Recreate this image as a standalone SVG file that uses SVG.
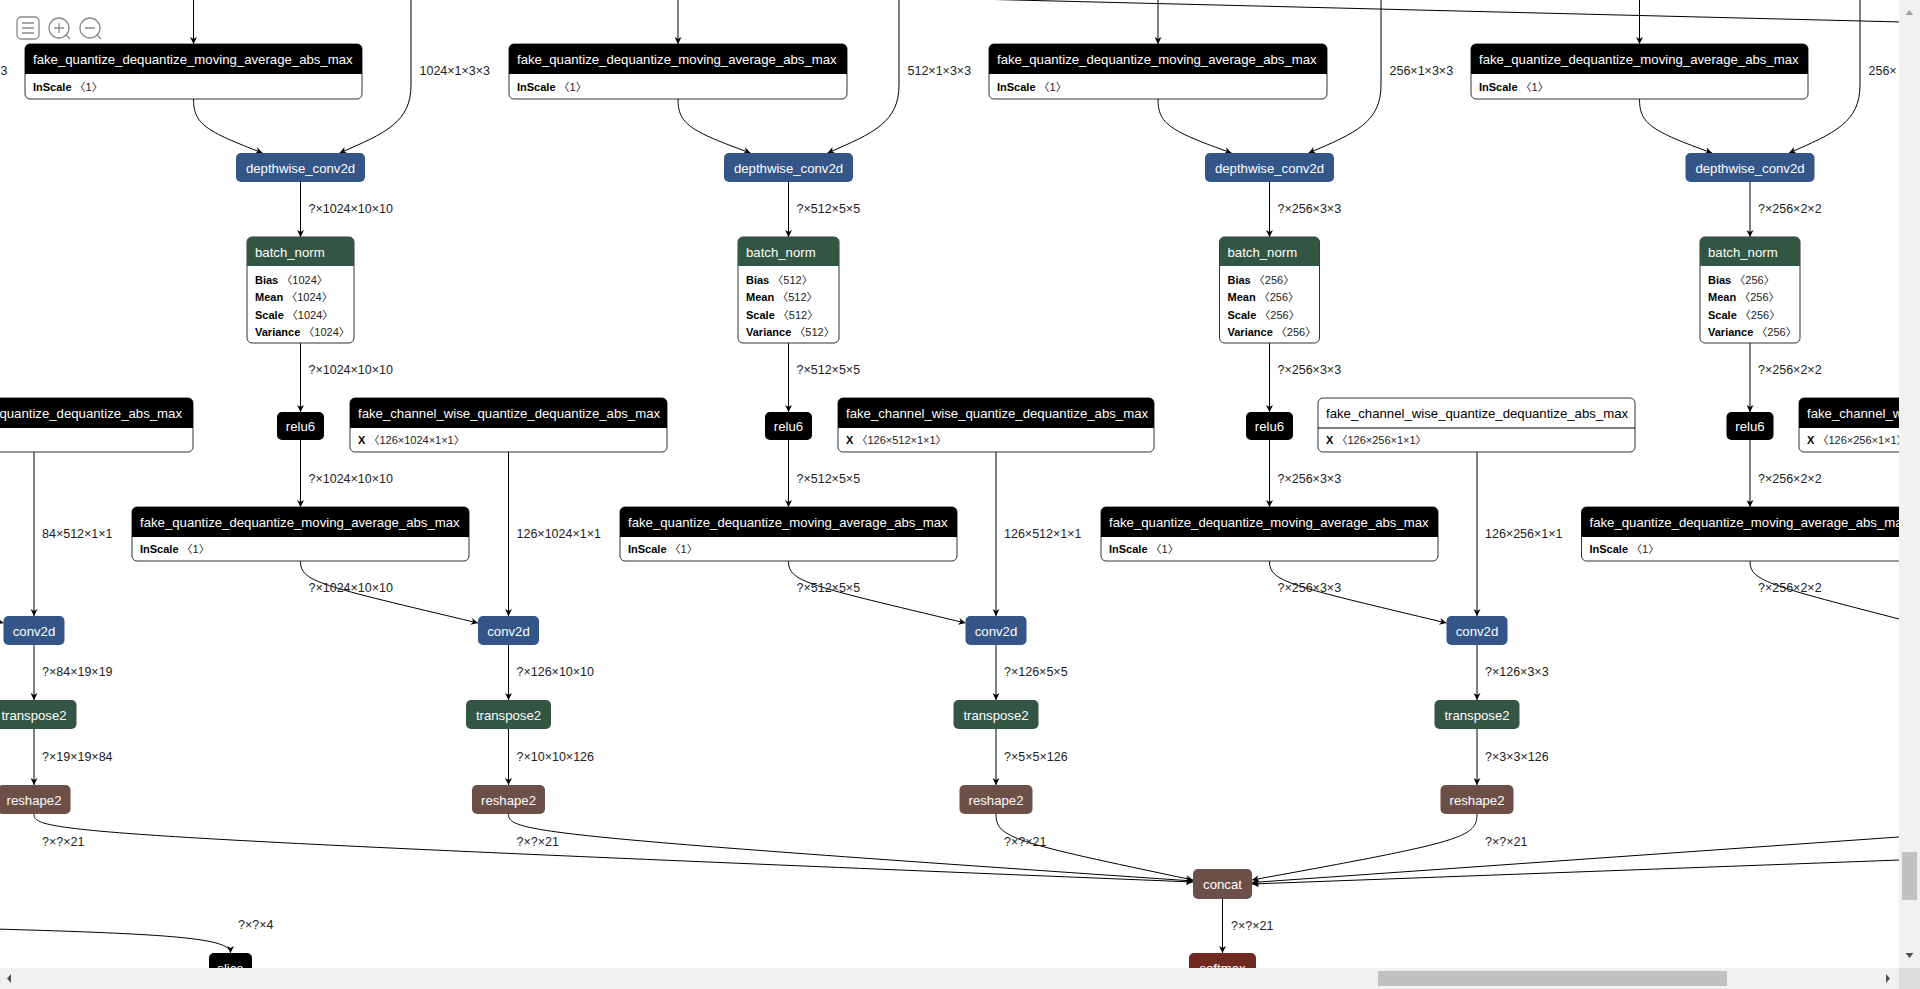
<svg xmlns="http://www.w3.org/2000/svg" width="1920" height="989" viewBox="0 0 1920 989">
<defs>
<marker id="arrow" viewBox="0 0 10 10" refX="10" refY="5" markerWidth="7" markerHeight="7" markerUnits="userSpaceOnUse" orient="auto"><path d="M0,0 L10,5 L0,10 L3,5 z" fill="#000"/></marker>
<style>
text{font-family:"Liberation Sans","Noto Sans CJK SC",sans-serif}
.title{font-size:13.2px;fill:#fff}
.dark{fill:#000}
.mid{text-anchor:middle}
.attr{font-size:11px;fill:#222}
.b{font-weight:bold;fill:#000}
.lbl{font-size:12.5px;fill:#222}
.body{fill:#fff;stroke:#333;stroke-width:1}
.k{fill:#000}
.blue{fill:#335588}
.green{fill:#335544}
.brown{fill:#6c4f47}
.red{fill:#702921}
.e{fill:none;stroke:#000;stroke-width:1;marker-end:url(#arrow)}
.ln{fill:none;stroke:#000;stroke-width:1}
</style>
</defs>
<rect width="1920" height="989" fill="#fff"/>

<g id="connectors">
<!-- column 1 -->
<path class="e" d="M193.5,0 V44"/>
<path class="e" d="M193.5,99 C193.5,124 205.5,131 262.5,153"/>
<path class="e" d="M411,0 V85 C411,122 386,133 339.5,153"/>
<path class="e" d="M300.5,182 V237"/>
<path class="e" d="M300.5,343 V412"/>
<path class="e" d="M300.5,440 V507"/>
<path class="e" d="M300.5,561 C300.5,582 318.5,585 478,623"/>
<path class="e" d="M508.5,452 V616"/>
<path class="e" d="M508.5,645 V700"/>
<path class="e" d="M508.5,729 V785"/>
<path class="e" d="M508.5,814 C508.5,832 535,836 1193,881"/>
<!-- column 2 -->
<path class="e" d="M678,0 V44"/>
<path class="e" d="M678,99 C678,124 690,131 750.5,153"/>
<path class="e" d="M899,0 V85 C899,122 874,133 827.5,153"/>
<path class="e" d="M788.5,182 V237"/>
<path class="e" d="M788.5,343 V412"/>
<path class="e" d="M788.5,440 V507"/>
<path class="e" d="M788.5,561 C788.5,582 806.5,585 965.5,623"/>
<path class="e" d="M996,452 V616"/>
<path class="e" d="M996,645 V700"/>
<path class="e" d="M996,729 V785"/>
<path class="e" d="M996,814 C996,838 1012,842 1193,880"/>
<!-- column 3 -->
<path class="e" d="M1158,0 V44"/>
<path class="e" d="M1158,99 C1158,124 1170,131 1231.5,153"/>
<path class="e" d="M1381,0 V85 C1381,122 1356,133 1308.5,153"/>
<path class="e" d="M1269.5,182 V237"/>
<path class="e" d="M1269.5,343 V412"/>
<path class="e" d="M1269.5,440 V507"/>
<path class="e" d="M1269.5,561 C1269.5,582 1287.5,585 1446.5,623"/>
<path class="e" d="M1477,452 V616"/>
<path class="e" d="M1477,645 V700"/>
<path class="e" d="M1477,729 V785"/>
<path class="e" d="M1477,814 C1477,838 1461,842 1252,880"/>
<!-- column 4 -->
<path class="e" d="M1639.5,0 V44"/>
<path class="e" d="M1639.5,99 C1639.5,124 1651.5,131 1712,153"/>
<path class="e" d="M1860,0 V85 C1860,122 1835,133 1789,153"/>
<path class="e" d="M1750,182 V237"/>
<path class="e" d="M1750,343 V412"/>
<path class="e" d="M1750,440 V507"/>
<path class="ln" d="M1750,561 C1750,582 1768,585 1930,627"/>
<!-- column 0 -->
<path class="e" d="M-30,614 L3.5,623"/>
<path class="e" d="M34,452 V616"/>
<path class="e" d="M34,645 V700"/>
<path class="e" d="M34,729 V785"/>
<path class="e" d="M34,814 C34,832 60,836 1193,882"/>
<!-- long lines -->
<path class="ln" d="M990,-0.6 L1930,22.7"/>
<path class="e" d="M1930,834.8 L1252,882.5"/>
<path class="e" d="M1930,858.9 L1252,884"/>
<path class="e" d="M1222.5,899 V953"/>
<path class="e" d="M-5,929 C170,934 230.5,938 230.5,953"/>
</g>

<g id="edge-labels" class="lbl">
<text class="lbl" x="0.5" y="75">3</text>
<text class="lbl" x="419.5" y="75">1024×1×3×3</text>
<text class="lbl" x="907.5" y="75">512×1×3×3</text>
<text class="lbl" x="1389.5" y="75">256×1×3×3</text>
<text class="lbl" x="1868.5" y="75">256×</text>

<text class="lbl" x="308.5" y="213">?×1024×10×10</text>
<text class="lbl" x="308.5" y="374">?×1024×10×10</text>
<text class="lbl" x="308.5" y="483">?×1024×10×10</text>
<text class="lbl" x="308.5" y="592">?×1024×10×10</text>
<text class="lbl" x="796.5" y="213">?×512×5×5</text>
<text class="lbl" x="796.5" y="374">?×512×5×5</text>
<text class="lbl" x="796.5" y="483">?×512×5×5</text>
<text class="lbl" x="796.5" y="592">?×512×5×5</text>
<text class="lbl" x="1277.5" y="213">?×256×3×3</text>
<text class="lbl" x="1277.5" y="374">?×256×3×3</text>
<text class="lbl" x="1277.5" y="483">?×256×3×3</text>
<text class="lbl" x="1277.5" y="592">?×256×3×3</text>
<text class="lbl" x="1758" y="213">?×256×2×2</text>
<text class="lbl" x="1758" y="374">?×256×2×2</text>
<text class="lbl" x="1758" y="483">?×256×2×2</text>
<text class="lbl" x="1758" y="592">?×256×2×2</text>

<text class="lbl" x="42" y="538">84×512×1×1</text>
<text class="lbl" x="516.5" y="538">126×1024×1×1</text>
<text class="lbl" x="1004" y="538">126×512×1×1</text>
<text class="lbl" x="1485" y="538">126×256×1×1</text>

<text class="lbl" x="42" y="676">?×84×19×19</text>
<text class="lbl" x="516.5" y="676">?×126×10×10</text>
<text class="lbl" x="1004" y="676">?×126×5×5</text>
<text class="lbl" x="1485" y="676">?×126×3×3</text>

<text class="lbl" x="42" y="761">?×19×19×84</text>
<text class="lbl" x="516.5" y="761">?×10×10×126</text>
<text class="lbl" x="1004" y="761">?×5×5×126</text>
<text class="lbl" x="1485" y="761">?×3×3×126</text>

<text class="lbl" x="42" y="846">?×?×21</text>
<text class="lbl" x="516.5" y="846">?×?×21</text>
<text class="lbl" x="1004" y="846">?×?×21</text>
<text class="lbl" x="1485" y="846">?×?×21</text>
<text class="lbl" x="1231" y="930">?×?×21</text>
<text class="lbl" x="238" y="929">?×?×4</text>
</g>

<!-- column 1 nodes -->
<g id="fq_top_1" transform="translate(25,44)">
<rect class="body" width="337" height="55" rx="5"/>
<path class="k" d="M0,30 V5 a5,5 0 0 1 5,-5 H332 a5,5 0 0 1 5,5 V30 Z"/>
<text class="title" x="8" y="20">fake_quantize_dequantize_moving_average_abs_max</text>
<text class="attr" x="8" y="46.5"><tspan class="b">InScale</tspan> 〈1〉</text>
</g>
<g id="dw_1" transform="translate(236,153)">
<rect class="blue" width="129" height="29" rx="5"/>
<text class="title mid" x="64.5" y="19.5">depthwise_conv2d</text>
</g>
<g id="bn_1" transform="translate(247,237)">
<rect class="body" width="107" height="106" rx="5"/>
<path class="green" d="M0,29 V5 a5,5 0 0 1 5,-5 H102 a5,5 0 0 1 5,5 V29 Z"/>
<text class="title" x="8" y="19.5">batch_norm</text>
<text class="attr" x="8" y="47"><tspan class="b">Bias</tspan> 〈1024〉</text>
<text class="attr" x="8" y="64.3"><tspan class="b">Mean</tspan> 〈1024〉</text>
<text class="attr" x="8" y="81.6"><tspan class="b">Scale</tspan> 〈1024〉</text>
<text class="attr" x="8" y="98.9"><tspan class="b">Variance</tspan> 〈1024〉</text>
</g>
<g id="relu_1" transform="translate(277,412)">
<rect class="k" width="47" height="28" rx="5"/>
<text class="title mid" x="23.5" y="19">relu6</text>
</g>
<g id="ch_1" transform="translate(350,398)">
<rect class="body" width="317" height="54" rx="5"/>
<path class="k" d="M0,30 V5 a5,5 0 0 1 5,-5 H312 a5,5 0 0 1 5,5 V30 Z"/>
<text class="title" x="8" y="20">fake_channel_wise_quantize_dequantize_abs_max</text>
<text class="attr" x="8" y="46"><tspan class="b">X</tspan> 〈126×1024×1×1〉</text>
</g>
<g id="fq2_1" transform="translate(132,507)">
<rect class="body" width="337" height="54" rx="5"/>
<path class="k" d="M0,30 V5 a5,5 0 0 1 5,-5 H332 a5,5 0 0 1 5,5 V30 Z"/>
<text class="title" x="8" y="20">fake_quantize_dequantize_moving_average_abs_max</text>
<text class="attr" x="8" y="46"><tspan class="b">InScale</tspan> 〈1〉</text>
</g>
<g id="conv_1" transform="translate(478,616)">
<rect class="blue" width="61" height="29" rx="5"/>
<text class="title mid" x="30.5" y="19.5">conv2d</text>
</g>
<g id="tr_1" transform="translate(466,700)">
<rect class="green" width="85" height="29" rx="5"/>
<text class="title mid" x="42.5" y="19.5">transpose2</text>
</g>
<g id="rs_1" transform="translate(472,785)">
<rect class="brown" width="73" height="29" rx="5"/>
<text class="title mid" x="36.5" y="19.5">reshape2</text>
</g>

<!-- column 2 nodes -->
<g id="fq_top_2" transform="translate(509,44)">
<rect class="body" width="338" height="55" rx="5"/>
<path class="k" d="M0,30 V5 a5,5 0 0 1 5,-5 H333 a5,5 0 0 1 5,5 V30 Z"/>
<text class="title" x="8" y="20">fake_quantize_dequantize_moving_average_abs_max</text>
<text class="attr" x="8" y="46.5"><tspan class="b">InScale</tspan> 〈1〉</text>
</g>
<g id="dw_2" transform="translate(724,153)">
<rect class="blue" width="129" height="29" rx="5"/>
<text class="title mid" x="64.5" y="19.5">depthwise_conv2d</text>
</g>
<g id="bn_2" transform="translate(738,237)">
<rect class="body" width="101" height="106" rx="5"/>
<path class="green" d="M0,29 V5 a5,5 0 0 1 5,-5 H96 a5,5 0 0 1 5,5 V29 Z"/>
<text class="title" x="8" y="19.5">batch_norm</text>
<text class="attr" x="8" y="47"><tspan class="b">Bias</tspan> 〈512〉</text>
<text class="attr" x="8" y="64.3"><tspan class="b">Mean</tspan> 〈512〉</text>
<text class="attr" x="8" y="81.6"><tspan class="b">Scale</tspan> 〈512〉</text>
<text class="attr" x="8" y="98.9"><tspan class="b">Variance</tspan> 〈512〉</text>
</g>
<g id="relu_2" transform="translate(765,412)">
<rect class="k" width="47" height="28" rx="5"/>
<text class="title mid" x="23.5" y="19">relu6</text>
</g>
<g id="ch_2" transform="translate(838,398)">
<rect class="body" width="316" height="54" rx="5"/>
<path class="k" d="M0,30 V5 a5,5 0 0 1 5,-5 H311 a5,5 0 0 1 5,5 V30 Z"/>
<text class="title" x="8" y="20">fake_channel_wise_quantize_dequantize_abs_max</text>
<text class="attr" x="8" y="46"><tspan class="b">X</tspan> 〈126×512×1×1〉</text>
</g>
<g id="fq2_2" transform="translate(620,507)">
<rect class="body" width="337" height="54" rx="5"/>
<path class="k" d="M0,30 V5 a5,5 0 0 1 5,-5 H332 a5,5 0 0 1 5,5 V30 Z"/>
<text class="title" x="8" y="20">fake_quantize_dequantize_moving_average_abs_max</text>
<text class="attr" x="8" y="46"><tspan class="b">InScale</tspan> 〈1〉</text>
</g>
<g id="conv_2" transform="translate(965.5,616)">
<rect class="blue" width="61" height="29" rx="5"/>
<text class="title mid" x="30.5" y="19.5">conv2d</text>
</g>
<g id="tr_2" transform="translate(953.5,700)">
<rect class="green" width="85" height="29" rx="5"/>
<text class="title mid" x="42.5" y="19.5">transpose2</text>
</g>
<g id="rs_2" transform="translate(959.5,785)">
<rect class="brown" width="73" height="29" rx="5"/>
<text class="title mid" x="36.5" y="19.5">reshape2</text>
</g>

<!-- column 3 nodes -->
<g id="fq_top_3" transform="translate(989,44)">
<rect class="body" width="338" height="55" rx="5"/>
<path class="k" d="M0,30 V5 a5,5 0 0 1 5,-5 H333 a5,5 0 0 1 5,5 V30 Z"/>
<text class="title" x="8" y="20">fake_quantize_dequantize_moving_average_abs_max</text>
<text class="attr" x="8" y="46.5"><tspan class="b">InScale</tspan> 〈1〉</text>
</g>
<g id="dw_3" transform="translate(1205,153)">
<rect class="blue" width="129" height="29" rx="5"/>
<text class="title mid" x="64.5" y="19.5">depthwise_conv2d</text>
</g>
<g id="bn_3" transform="translate(1219.5,237)">
<rect class="body" width="100" height="106" rx="5"/>
<path class="green" d="M0,29 V5 a5,5 0 0 1 5,-5 H95 a5,5 0 0 1 5,5 V29 Z"/>
<text class="title" x="8" y="19.5">batch_norm</text>
<text class="attr" x="8" y="47"><tspan class="b">Bias</tspan> 〈256〉</text>
<text class="attr" x="8" y="64.3"><tspan class="b">Mean</tspan> 〈256〉</text>
<text class="attr" x="8" y="81.6"><tspan class="b">Scale</tspan> 〈256〉</text>
<text class="attr" x="8" y="98.9"><tspan class="b">Variance</tspan> 〈256〉</text>
</g>
<g id="relu_3" transform="translate(1246,412)">
<rect class="k" width="47" height="28" rx="5"/>
<text class="title mid" x="23.5" y="19">relu6</text>
</g>
<g id="ch_3" transform="translate(1318,398)">
<rect class="body" width="317" height="54" rx="5"/>
<path class="ln" d="M0,30 H317" stroke="#333"/>
<text class="title dark" x="8" y="20">fake_channel_wise_quantize_dequantize_abs_max</text>
<text class="attr" x="8" y="46"><tspan class="b">X</tspan> 〈126×256×1×1〉</text>
</g>
<g id="fq2_3" transform="translate(1101,507)">
<rect class="body" width="337" height="54" rx="5"/>
<path class="k" d="M0,30 V5 a5,5 0 0 1 5,-5 H332 a5,5 0 0 1 5,5 V30 Z"/>
<text class="title" x="8" y="20">fake_quantize_dequantize_moving_average_abs_max</text>
<text class="attr" x="8" y="46"><tspan class="b">InScale</tspan> 〈1〉</text>
</g>
<g id="conv_3" transform="translate(1446.5,616)">
<rect class="blue" width="61" height="29" rx="5"/>
<text class="title mid" x="30.5" y="19.5">conv2d</text>
</g>
<g id="tr_3" transform="translate(1434.5,700)">
<rect class="green" width="85" height="29" rx="5"/>
<text class="title mid" x="42.5" y="19.5">transpose2</text>
</g>
<g id="rs_3" transform="translate(1440.5,785)">
<rect class="brown" width="73" height="29" rx="5"/>
<text class="title mid" x="36.5" y="19.5">reshape2</text>
</g>

<!-- column 4 nodes -->
<g id="fq_top_4" transform="translate(1471,44)">
<rect class="body" width="337" height="55" rx="5"/>
<path class="k" d="M0,30 V5 a5,5 0 0 1 5,-5 H332 a5,5 0 0 1 5,5 V30 Z"/>
<text class="title" x="8" y="20">fake_quantize_dequantize_moving_average_abs_max</text>
<text class="attr" x="8" y="46.5"><tspan class="b">InScale</tspan> 〈1〉</text>
</g>
<g id="dw_4" transform="translate(1685.5,153)">
<rect class="blue" width="129" height="29" rx="5"/>
<text class="title mid" x="64.5" y="19.5">depthwise_conv2d</text>
</g>
<g id="bn_4" transform="translate(1700,237)">
<rect class="body" width="100" height="106" rx="5"/>
<path class="green" d="M0,29 V5 a5,5 0 0 1 5,-5 H95 a5,5 0 0 1 5,5 V29 Z"/>
<text class="title" x="8" y="19.5">batch_norm</text>
<text class="attr" x="8" y="47"><tspan class="b">Bias</tspan> 〈256〉</text>
<text class="attr" x="8" y="64.3"><tspan class="b">Mean</tspan> 〈256〉</text>
<text class="attr" x="8" y="81.6"><tspan class="b">Scale</tspan> 〈256〉</text>
<text class="attr" x="8" y="98.9"><tspan class="b">Variance</tspan> 〈256〉</text>
</g>
<g id="relu_4" transform="translate(1726.5,412)">
<rect class="k" width="47" height="28" rx="5"/>
<text class="title mid" x="23.5" y="19">relu6</text>
</g>
<g id="ch_4" transform="translate(1799,398)">
<rect class="body" width="317" height="54" rx="5"/>
<path class="k" d="M0,30 V5 a5,5 0 0 1 5,-5 H312 a5,5 0 0 1 5,5 V30 Z"/>
<text class="title" x="8" y="20">fake_channel_w</text>
<text class="attr" x="8" y="46"><tspan class="b">X</tspan> 〈126×256×1×1〉</text>
</g>
<g id="fq2_4" transform="translate(1581.5,507)">
<rect class="body" width="337" height="54" rx="5"/>
<path class="k" d="M0,30 V5 a5,5 0 0 1 5,-5 H332 a5,5 0 0 1 5,5 V30 Z"/>
<text class="title" x="8" y="20">fake_quantize_dequantize_moving_average_abs_ma</text>
<text class="attr" x="8" y="46"><tspan class="b">InScale</tspan> 〈1〉</text>
</g>

<!-- column 0 nodes -->
<g id="q_0" transform="translate(-150,398)">
<rect class="body" width="343" height="54" rx="5"/>
<path class="k" d="M0,30 V5 a5,5 0 0 1 5,-5 H338 a5,5 0 0 1 5,5 V30 Z"/>
<text class="title" x="332" y="20" text-anchor="end">quantize_dequantize_abs_max</text>
</g>
<g id="conv_0" transform="translate(3.5,616)">
<rect class="blue" width="61" height="29" rx="5"/>
<text class="title mid" x="30.5" y="19.5">conv2d</text>
</g>
<g id="tr_0" transform="translate(-8.5,700)">
<rect class="green" width="85" height="29" rx="5"/>
<text class="title mid" x="42.5" y="19.5">transpose2</text>
</g>
<g id="rs_0" transform="translate(-2.5,785)">
<rect class="brown" width="73" height="29" rx="5"/>
<text class="title mid" x="36.5" y="19.5">reshape2</text>
</g>

<!-- bottom nodes -->
<g id="concat" transform="translate(1193,869)">
<rect class="brown" width="59" height="30" rx="5"/>
<text class="title mid" x="29.5" y="20">concat</text>
</g>
<g id="softmax" transform="translate(1189,953)">
<rect class="red" width="67" height="30" rx="5"/>
<text class="title mid" x="33.5" y="20">softmax</text>
</g>
<g id="slice" transform="translate(209,953)">
<rect class="k" width="43" height="30" rx="5"/>
<text class="title mid" x="21.5" y="20">slice</text>
</g>

<!-- toolbar -->
<g id="toolbar" fill="none" stroke="#8a8a8a" stroke-width="1.3">
<rect x="17" y="17" width="22" height="22" rx="4"/>
<path d="M22,23 H34 M22,28 H34 M22,33 H34"/>
<circle cx="59" cy="28" r="10"/>
<path d="M54,28 H64 M59,23 V33 M66,35 L70,39"/>
<circle cx="90" cy="28" r="10"/>
<path d="M85,28 H95 M97,35 L101,39"/>
</g>

<!-- scrollbars -->
<g id="scrollbars">
<rect x="1899" y="0" width="21" height="968" fill="#f1f1f1"/>
<rect x="1902" y="852" width="15" height="48" fill="#c1c1c1"/>
<path d="M1905.5,15 L1909.5,10 L1913.5,15 Z" fill="#a3a3a3"/>
<path d="M1905.5,953 L1909.5,958 L1913.5,953 Z" fill="#505050"/>
<rect x="0" y="968" width="1899" height="21" fill="#f1f1f1"/>
<rect x="1378" y="971" width="349" height="15" fill="#c1c1c1"/>
<path d="M11,974 L7,978.5 L11,983 Z" fill="#505050"/>
<path d="M1886,974 L1890,978.5 L1886,983 Z" fill="#505050"/>
<rect x="1899" y="968" width="21" height="21" fill="#dcdcdc"/>
</g>
</svg>
